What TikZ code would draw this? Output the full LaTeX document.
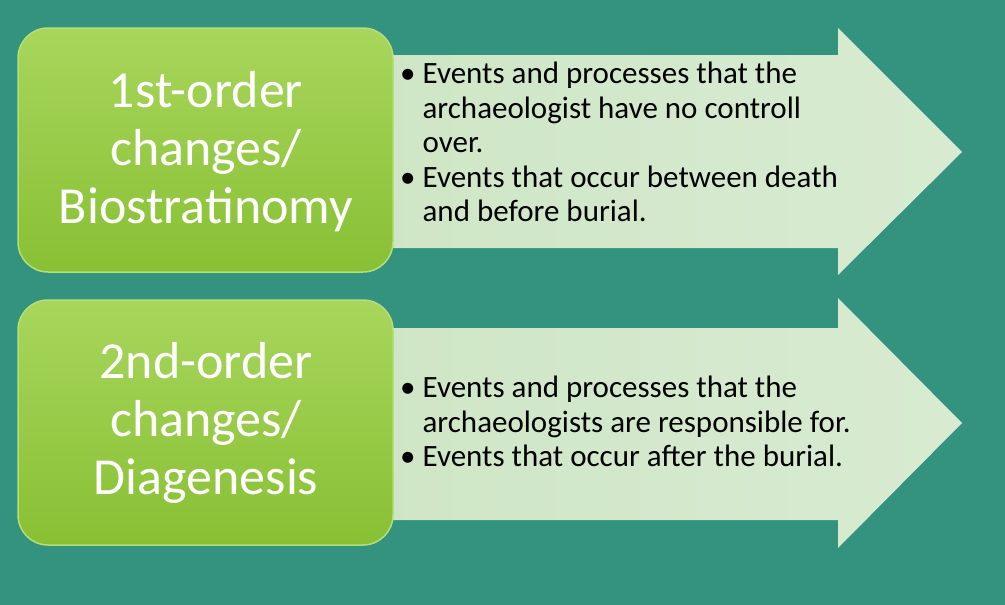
\documentclass[tikz,border=0pt]{standalone}
\usepackage{fontspec}
\setmainfont{Carlito}
\begin{document}
\begin{tikzpicture}[x=1pt,y=-1pt,
  greenbox/.style={rounded corners=30pt,top color=green1,bottom color=green2,draw=green3,line width=1.5pt},
  arrowshape/.style={left color=arrowL,right color=arrowR,draw=none},
  title/.style={text=white,font=\fontsize{52}{58}\selectfont,align=center},
  bullets/.style={anchor=north west,font=\fontsize{31}{34.5}\selectfont,align=left,text=black,inner sep=0pt}]
\definecolor{bg}{HTML}{33937F}
\definecolor{green1}{HTML}{A8D65C}
\definecolor{green2}{HTML}{88C034}
\definecolor{green3}{HTML}{B5DD7A}
\definecolor{arrowL}{HTML}{CFE6C6}
\definecolor{arrowR}{HTML}{D8EBD2}
\fill[bg] (0,0) rectangle (1005,605);
\useasboundingbox (0,0) rectangle (1005,605);
% arrows
\path[arrowshape] (380,55) -- (838,55) -- (838,28) -- (962,152) -- (838,275) -- (838,248) -- (380,248) -- cycle;
\path[arrowshape] (380,328) -- (838,328) -- (838,298) -- (962,423) -- (838,548) -- (838,520) -- (380,520) -- cycle;
% boxes
\path[greenbox] (18,28) rectangle (393,272);
\path[greenbox] (18,300) rectangle (393,545);
\node[title] (t1) at (206,152) {1st-order\\changes/\\Biostratinomy};
\node[title] (t2) at (206,423) {2nd-order\\changes/\\Diagenesis};
\node[bullets] (b1) at (400,62) {\textbullet\ Events and processes that the\\
\hphantom{\textbullet\ }archaeologist have no controll\\
\hphantom{\textbullet\ }over.\\
\textbullet\ Events that occur between death\\
\hphantom{\textbullet\ }and before burial.};
\node[bullets] (b2) at (400,376) {\textbullet\ Events and processes that the\\
\hphantom{\textbullet\ }archaeologists are responsible for.\\
\textbullet\ Events that occur after the burial.};
\end{tikzpicture}
\end{document}
